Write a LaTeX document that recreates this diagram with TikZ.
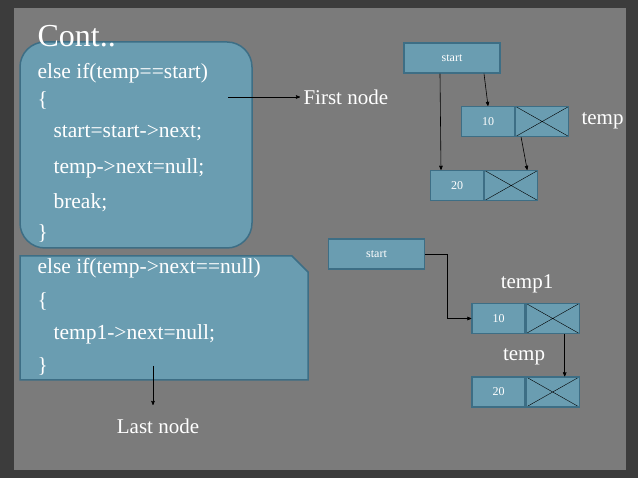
\documentclass[tikz,border=0pt]{standalone}
\usepackage{fontspec}
\setmainfont{Liberation Serif}
\usetikzlibrary{positioning,shapes.geometric,arrows}
\definecolor{panel}{HTML}{7B7B7B}
\definecolor{frame}{HTML}{3C3C3C}
\definecolor{boxfill}{HTML}{6A9DB1}
\definecolor{boxline}{HTML}{3D6E85}
\tikzset{
  cell/.style={rectangle, draw=boxline, line width=1.2pt, fill=boxfill, minimum height=30pt, inner sep=0pt, text=white, font=\fontsize{12}{13}\selectfont},
  val/.style={cell, minimum width=53pt},
  ptr/.style={cell, minimum width=53pt, path picture={
      \draw[black, thin] (path picture bounding box.north west) -- (path picture bounding box.south east)
        (path picture bounding box.south west) -- (path picture bounding box.north east);}},
  head/.style={cell, minimum width=96pt, minimum height=30pt},
  code/.style={text=white, font=\fontsize{21.5}{25}\selectfont, anchor=west},
  lbl/.style={text=white, font=\fontsize{21}{25}\selectfont},
  arrow/.style={->, >=stealth', semithick, black}
}
\begin{document}
\begin{tikzpicture}[x=1pt, y=-1pt]
  \useasboundingbox (0,0) rectangle (638,478);
  % background
  \fill[frame] (0,0) rectangle (638,478);
  \fill[panel] (14,8) rectangle (626,470);

  % code boxes
  \draw[boxline, line width=1.5pt, fill=boxfill, rounded corners=25pt] (20,42) rectangle (252,248);
  \draw[boxline, line width=1.5pt, fill=boxfill] (20,256) -- (292,256) -- (308,272) -- (308,380) -- (20,380) -- cycle;
  \node[text=white, font=\fontsize{32}{36}\selectfont, anchor=west] (title) at (34,36) {Cont..};
  \node[code] (c1) at (34,73) {else if(temp==start)};
  \node[code] (c2) at (34,100) {\{};
  \node[code] (c3) at (50,133) {start=start-{>}next;};
  \node[code] (c4) at (50,168) {temp-{>}next=null;};
  \node[code] (c5) at (50,203) {break;};
  \node[code] (c6) at (34,233) {\}};
  \node[code] (c7) at (34,268) {else if(temp-{>}next==null)};
  \node[code] (c8) at (34,301) {\{};
  \node[code] (c9) at (50,334) {temp1-{>}next=null;};
  \node[code] (c10) at (34,366) {\}};

  % labels
  \coordinate (a1) at (228,97);
  \node[lbl, anchor=west] (first) at (300,97) {First node};
  \draw[arrow] (a1) -- (first.west);
  \coordinate (a2) at (153,366);
  \node[lbl] (last) at (158,426) {Last node};
  \draw[arrow] (a2) -- ++(0,39);

  % first list
  \node[head] (s1) at (452,58) {start};
  \node[val] (t10) at (488,121.5) {10};
  \node[ptr, right=0pt of t10] (t10p) {};
  \node[val] (t20) at (457,185.5) {20};
  \node[ptr, right=0pt of t20] (t20p) {};
  \node[lbl, anchor=west] (tmp) at (578,121) {temp};
  \draw[arrow] ([xshift=-12pt]s1.south) -- ([xshift=-16pt]t20.north);
  \draw[arrow] ([xshift=32pt]s1.south) -- ([xshift=0pt]t10.north);
  \draw[arrow] ([xshift=6pt]t10p.south west) -- ([xshift=16pt]t20p.north);

  % second list
  \node[head] (s2) at (376.5,254) {start};
  \node[val] (u10) at (498.5,318.5) {10};
  \node[ptr, right=0pt of u10] (u10p) {};
  \node[val] (u20) at (498.5,392) {20};
  \node[ptr, right=0pt of u20] (u20p) {};
  \node[lbl] (tmp1) at (527,284) {temp1};
  \node[lbl] (tmp2) at (524,357) {temp};
  \draw[arrow] (s2.east) -| ([xshift=-24pt]u10.west) -- (u10.west);
  \draw[arrow] ([xshift=12pt]u10p.south) -- ([xshift=12pt]u20p.north);
\end{tikzpicture}
\end{document}
